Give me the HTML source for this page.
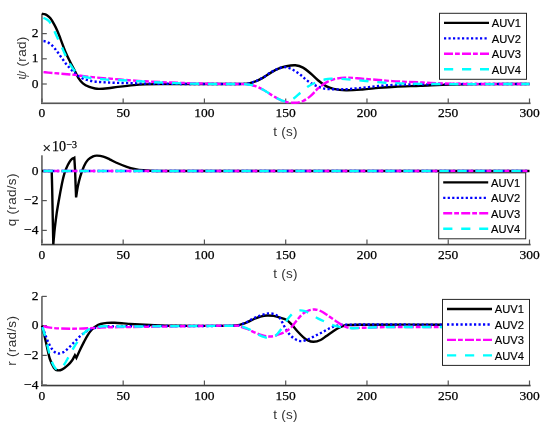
<!DOCTYPE html>
<html><head><meta charset="utf-8"><title>AUV psi q r</title>
<style>
html,body{margin:0;padding:0;background:#fff;}
svg{display:block;}
.tl{font-family:"Liberation Serif",serif;font-size:13.5px;fill:#000;stroke:#000;stroke-width:0.25px;}
.al{font-family:"Liberation Sans",sans-serif;font-size:13.5px;letter-spacing:0.3px;fill:#333;}
.lg{font-family:"Liberation Sans",sans-serif;font-size:11.2px;fill:#000;stroke:#000;stroke-width:0.15px;}
.ex{font-family:"Liberation Serif",serif;fill:#000;stroke:#000;stroke-width:0.25px;}
</style></head><body>
<svg width="550" height="431" viewBox="0 0 550 431">
<rect width="550" height="431" fill="#fff"/>
<rect x="41" y="13.5" width="1" height="90.5" fill="#747474"/>
<rect x="42" y="13.5" width="1" height="90.5" fill="#8a8a8a"/>
<rect x="41" y="102" width="489.6" height="1" fill="#a4a4a4"/>
<rect x="41" y="103" width="489.6" height="1" fill="#555555"/>
<rect x="41" y="104" width="489.6" height="1" fill="#ececec"/>
<line x1="41.90" y1="98.5" x2="41.90" y2="103.0" stroke="#555" stroke-width="1.2"/>
<text x="41.90" y="117.1" class="tl" text-anchor="middle">0</text>
<line x1="123.17" y1="98.5" x2="123.17" y2="103.0" stroke="#555" stroke-width="1.2"/>
<text x="123.17" y="117.1" class="tl" text-anchor="middle">50</text>
<line x1="204.43" y1="98.5" x2="204.43" y2="103.0" stroke="#555" stroke-width="1.2"/>
<text x="204.43" y="117.1" class="tl" text-anchor="middle">100</text>
<line x1="285.70" y1="98.5" x2="285.70" y2="103.0" stroke="#555" stroke-width="1.2"/>
<text x="285.70" y="117.1" class="tl" text-anchor="middle">150</text>
<line x1="366.97" y1="98.5" x2="366.97" y2="103.0" stroke="#555" stroke-width="1.2"/>
<text x="366.97" y="117.1" class="tl" text-anchor="middle">200</text>
<line x1="448.23" y1="98.5" x2="448.23" y2="103.0" stroke="#555" stroke-width="1.2"/>
<text x="448.23" y="117.1" class="tl" text-anchor="middle">250</text>
<line x1="529.50" y1="98.5" x2="529.50" y2="103.0" stroke="#555" stroke-width="1.2"/>
<text x="529.50" y="117.1" class="tl" text-anchor="middle">300</text>
<line x1="42" y1="84.00" x2="46.8" y2="84.00" stroke="#555" stroke-width="1.2"/>
<text x="38.4" y="87.60" class="tl" text-anchor="end">0</text>
<line x1="42" y1="58.80" x2="46.8" y2="58.80" stroke="#555" stroke-width="1.2"/>
<text x="38.4" y="62.40" class="tl" text-anchor="end">1</text>
<line x1="42" y1="33.60" x2="46.8" y2="33.60" stroke="#555" stroke-width="1.2"/>
<text x="38.4" y="37.20" class="tl" text-anchor="end">2</text>
<text x="285.5" y="136.4" class="al" text-anchor="middle">t (s)</text>
<text transform="translate(25.5 58.1) rotate(-90)" class="al" text-anchor="middle"><tspan font-family="Liberation Serif" font-style="italic" font-size="14.5">ψ</tspan> (rad)</text>
<path d="M42.00 13.80 C42.83 13.93 43.70 13.96 44.50 14.20 C45.36 14.46 46.25 14.79 47.00 15.30 C48.22 16.13 49.48 17.05 50.40 18.20 C51.78 19.92 52.82 21.95 53.90 23.90 C55.16 26.18 56.35 28.52 57.40 30.90 C58.51 33.42 59.41 36.03 60.40 38.60 C62.18 43.23 63.79 47.93 65.70 52.50 C67.05 55.73 68.65 58.86 70.20 62.00 C71.68 64.99 73.28 67.93 74.80 70.90 C75.98 73.19 76.90 75.65 78.30 77.80 C79.60 79.79 81.09 81.80 82.90 83.30 C84.76 84.83 87.07 85.94 89.30 86.90 C91.10 87.67 93.07 88.11 95.00 88.50 C96.37 88.78 97.80 88.93 99.20 88.90 C102.13 88.83 105.08 88.52 108.00 88.20 C111.24 87.85 114.46 87.29 117.70 86.90 C123.13 86.25 128.56 85.60 134.00 85.10 C137.66 84.77 141.33 84.54 145.00 84.40 C150.00 84.21 155.00 84.14 160.00 84.10 C170.00 84.01 180.00 84.01 190.00 84.00 C206.00 83.98 222.00 84.03 238.00 84.00 C240.00 84.00 242.01 84.03 244.00 83.90 C245.67 83.79 247.37 83.66 249.00 83.30 C251.20 82.82 253.41 82.24 255.50 81.40 C258.15 80.34 260.72 79.02 263.20 77.60 C265.85 76.08 268.26 74.15 270.90 72.60 C273.36 71.15 275.87 69.69 278.50 68.60 C281.03 67.55 283.71 66.73 286.40 66.20 C289.31 65.63 292.39 65.05 295.30 65.30 C297.92 65.52 300.67 66.36 303.00 67.60 C305.81 69.09 308.23 71.42 310.70 73.50 C313.33 75.72 315.65 78.31 318.30 80.50 C320.75 82.51 323.24 84.59 326.00 86.10 C328.34 87.39 330.98 88.36 333.60 88.90 C337.61 89.73 341.79 90.11 345.90 90.20 C351.36 90.31 356.84 89.88 362.30 89.50 C367.74 89.12 373.16 88.37 378.60 87.90 C384.06 87.43 389.53 86.98 395.00 86.70 C403.33 86.28 411.67 86.12 420.00 85.80 C430.00 85.42 440.00 84.88 450.00 84.60 C460.00 84.32 470.00 84.18 480.00 84.10 C496.50 83.98 513.00 84.03 529.50 84.00" fill="none" stroke="#000" stroke-width="2.4"/>
<path d="M42.00 40.80 C43.00 40.97 44.03 41.03 45.00 41.30 C46.16 41.63 47.37 41.98 48.40 42.60 C49.87 43.48 51.31 44.56 52.50 45.80 C54.41 47.79 56.02 50.10 57.70 52.30 C58.82 53.76 59.81 55.31 60.90 56.80 C62.81 59.41 64.64 62.10 66.70 64.60 C68.51 66.80 70.45 68.92 72.50 70.90 C74.32 72.65 76.23 74.36 78.30 75.80 C80.10 77.06 82.08 78.15 84.10 79.00 C85.98 79.79 88.01 80.24 90.00 80.70 C91.94 81.14 93.92 81.52 95.90 81.70 C101.35 82.19 106.83 82.47 112.30 82.70 C117.73 82.93 123.17 82.97 128.60 83.10 C134.07 83.23 139.53 83.42 145.00 83.50 C160.00 83.72 175.00 83.92 190.00 84.00 C206.00 84.09 222.00 84.03 238.00 84.00 C240.00 84.00 242.01 84.03 244.00 83.90 C245.67 83.79 247.37 83.67 249.00 83.30 C251.20 82.80 253.41 82.17 255.50 81.30 C258.15 80.20 260.72 78.85 263.20 77.40 C265.85 75.85 268.25 73.86 270.90 72.30 C273.35 70.86 275.85 69.37 278.50 68.40 C280.59 67.64 282.94 66.90 285.10 67.10 C287.71 67.34 290.40 68.49 292.80 69.70 C295.50 71.06 297.96 72.97 300.40 74.80 C303.06 76.80 305.39 79.28 308.10 81.20 C310.52 82.91 313.12 84.44 315.80 85.70 C318.22 86.84 320.80 87.80 323.40 88.40 C325.90 88.97 328.52 89.11 331.10 89.20 C336.02 89.38 340.98 89.42 345.90 89.20 C351.38 88.95 356.84 88.33 362.30 87.80 C367.74 87.27 373.16 86.48 378.60 86.00 C384.06 85.52 389.53 85.12 395.00 84.90 C403.33 84.56 411.67 84.41 420.00 84.30 C433.33 84.12 446.67 84.11 460.00 84.02" fill="none" stroke="#0000ff" stroke-width="2.4" stroke-dasharray="2.2 2.3" stroke-dashoffset="-1.5"/>
<path d="M460.00 84.02 L529.50 84.00" fill="none" stroke="#0000ff" stroke-width="2.4" stroke-dasharray="2.2 2.3" stroke-dashoffset="-1.5"/>
<path d="M42.00 72.00 C44.13 72.20 46.27 72.41 48.40 72.60 C52.27 72.94 56.13 73.26 60.00 73.60 C64.93 74.03 69.88 74.36 74.80 74.90 C79.88 75.46 84.92 76.34 90.00 76.90 C95.59 77.51 101.20 77.92 106.80 78.40 C114.06 79.02 121.33 79.65 128.60 80.20 C134.06 80.61 139.53 81.00 145.00 81.30 C153.33 81.76 161.66 82.17 170.00 82.50 C180.00 82.90 190.00 83.26 200.00 83.50 C210.00 83.74 220.00 83.82 230.00 83.95 C232.67 83.99 235.33 83.97 238.00 84.00 C240.00 84.02 242.01 83.97 244.00 84.10 C245.67 84.21 247.35 84.41 249.00 84.70 C251.18 85.08 253.43 85.36 255.50 86.10 C258.16 87.06 260.71 88.43 263.20 89.80 C265.84 91.26 268.31 93.04 270.90 94.60 C273.41 96.11 275.89 97.68 278.50 99.00 C280.56 100.05 282.66 101.19 284.90 101.70 C288.26 102.46 291.86 102.93 295.30 102.80 C297.90 102.70 300.63 102.06 303.00 101.00 C305.77 99.76 308.35 97.86 310.70 95.90 C313.45 93.60 315.59 90.56 318.30 88.20 C320.69 86.12 323.27 84.19 326.00 82.60 C328.37 81.22 330.95 80.00 333.60 79.30 C337.22 78.34 341.05 77.68 344.80 77.60 C350.61 77.48 356.47 78.29 362.30 78.70 C367.74 79.09 373.17 79.56 378.60 80.00 C383.13 80.36 387.66 80.84 392.20 81.10 C402.36 81.68 412.53 82.06 422.70 82.50 C431.80 82.89 440.90 83.36 450.00 83.60 C460.00 83.86 470.00 83.95 480.00 84.00 C496.50 84.08 513.00 84.00 529.50 84.00" fill="none" stroke="#ff00ff" stroke-width="2.4" stroke-dasharray="9 2 4.8 2.2" stroke-dashoffset="-1.5"/>
<path d="M42.00 17.30 C43.00 17.70 44.05 18.01 45.00 18.50 C46.18 19.11 47.46 19.69 48.40 20.60 C49.63 21.79 50.65 23.29 51.50 24.80 C52.72 26.96 53.57 29.33 54.60 31.60 C55.50 33.57 56.39 35.54 57.30 37.50 C58.86 40.87 60.44 44.23 62.00 47.60 C63.04 49.86 64.00 52.16 65.10 54.40 C66.74 57.73 68.27 61.14 70.20 64.30 C71.91 67.11 73.66 70.09 76.00 72.30 C77.89 74.09 80.46 75.32 82.90 76.30 C85.13 77.19 87.60 77.56 90.00 77.90 C94.84 78.59 99.72 79.05 104.60 79.40 C110.79 79.85 117.00 79.96 123.20 80.30 C128.64 80.60 134.07 80.98 139.50 81.30 C146.33 81.71 153.16 82.19 160.00 82.50 C170.00 82.96 180.00 83.36 190.00 83.60 C200.00 83.84 210.00 83.87 220.00 83.95 C226.00 84.00 232.00 83.96 238.00 84.00 C240.00 84.01 242.01 83.97 244.00 84.10 C245.67 84.21 247.35 84.41 249.00 84.70 C251.18 85.08 253.43 85.36 255.50 86.10 C258.16 87.06 260.71 88.43 263.20 89.80 C265.84 91.26 268.31 93.04 270.90 94.60 C273.41 96.11 275.89 97.69 278.50 99.00 C280.26 99.89 282.11 100.72 284.00 101.20 C285.28 101.52 286.76 101.76 288.00 101.40 C290.09 100.79 292.17 99.58 294.00 98.30 C296.30 96.68 298.23 94.52 300.40 92.70 C302.93 90.59 305.37 88.31 308.10 86.50 C310.50 84.91 313.14 83.62 315.80 82.50 C318.68 81.29 321.68 80.27 324.70 79.50 C326.78 78.97 328.95 78.64 331.10 78.60 C335.65 78.51 340.24 78.80 344.80 79.10 C351.01 79.50 357.20 80.13 363.40 80.70 C369.20 81.23 374.99 81.96 380.80 82.40 C386.76 82.86 392.73 83.25 398.70 83.40 C415.79 83.82 432.90 84.02 450.00 84.10 C476.50 84.22 503.00 84.03 529.50 84.00" fill="none" stroke="#00ffff" stroke-width="2.4" stroke-dasharray="9.2 8.8" stroke-dashoffset="-1.5"/>
<rect x="439.5" y="13.3" width="87" height="66" fill="#fff" stroke="#262626" stroke-width="1"/>
<path d="M444.0 22.90 H489.0" fill="none" stroke="#000" stroke-width="2.4"/>
<text x="491.8" y="27.20" class="lg">AUV1</text>
<path d="M444.0 38.35 H489.0" fill="none" stroke="#0000ff" stroke-width="2.4" stroke-dasharray="2.2 2.3"/>
<text x="491.8" y="42.65" class="lg">AUV2</text>
<path d="M444.0 53.80 H489.0" fill="none" stroke="#ff00ff" stroke-width="2.4" stroke-dasharray="9 2 4.8 2.2"/>
<text x="491.8" y="58.10" class="lg">AUV3</text>
<path d="M444.0 69.25 H489.0" fill="none" stroke="#00ffff" stroke-width="2.4" stroke-dasharray="9.2 8.8"/>
<text x="491.8" y="73.55" class="lg">AUV4</text>
<rect x="41" y="155.3" width="1" height="89.7" fill="#747474"/>
<rect x="42" y="155.3" width="1" height="89.7" fill="#8a8a8a"/>
<rect x="41" y="243" width="489.6" height="1" fill="#d5d5d5"/>
<rect x="41" y="244" width="489.6" height="1" fill="#474747"/>
<rect x="41" y="245" width="489.6" height="1" fill="#b8b8b8"/>
<line x1="41.90" y1="239.5" x2="41.90" y2="244.0" stroke="#555" stroke-width="1.2"/>
<text x="41.90" y="258.6" class="tl" text-anchor="middle">0</text>
<line x1="123.17" y1="239.5" x2="123.17" y2="244.0" stroke="#555" stroke-width="1.2"/>
<text x="123.17" y="258.6" class="tl" text-anchor="middle">50</text>
<line x1="204.43" y1="239.5" x2="204.43" y2="244.0" stroke="#555" stroke-width="1.2"/>
<text x="204.43" y="258.6" class="tl" text-anchor="middle">100</text>
<line x1="285.70" y1="239.5" x2="285.70" y2="244.0" stroke="#555" stroke-width="1.2"/>
<text x="285.70" y="258.6" class="tl" text-anchor="middle">150</text>
<line x1="366.97" y1="239.5" x2="366.97" y2="244.0" stroke="#555" stroke-width="1.2"/>
<text x="366.97" y="258.6" class="tl" text-anchor="middle">200</text>
<line x1="448.23" y1="239.5" x2="448.23" y2="244.0" stroke="#555" stroke-width="1.2"/>
<text x="448.23" y="258.6" class="tl" text-anchor="middle">250</text>
<line x1="529.50" y1="239.5" x2="529.50" y2="244.0" stroke="#555" stroke-width="1.2"/>
<text x="529.50" y="258.6" class="tl" text-anchor="middle">300</text>
<line x1="42" y1="171.00" x2="46.8" y2="171.00" stroke="#555" stroke-width="1.2"/>
<text x="38.4" y="174.60" class="tl" text-anchor="end">0</text>
<line x1="42" y1="200.60" x2="46.8" y2="200.60" stroke="#555" stroke-width="1.2"/>
<text x="38.4" y="204.20" class="tl" text-anchor="end">−2</text>
<line x1="42" y1="230.40" x2="46.8" y2="230.40" stroke="#555" stroke-width="1.2"/>
<text x="38.4" y="234.00" class="tl" text-anchor="end">−4</text>
<text x="285.5" y="277.9" class="al" text-anchor="middle">t (s)</text>
<text transform="translate(15.9 199.8) rotate(-90)" class="al" text-anchor="middle">q (rad/s)</text>
<path d="M42.00 171.00 L51.70 171.00 C51.87 177.33 52.06 183.67 52.20 190.00 C52.42 200.00 52.60 210.00 52.80 220.00 C52.96 228.10 53.13 236.20 53.30 244.30 C53.43 242.77 53.56 241.23 53.70 239.70 C54.06 235.87 54.37 232.03 54.80 228.20 C55.34 223.39 55.90 218.59 56.60 213.80 C57.27 209.19 58.10 204.59 58.90 200.00 C59.63 195.83 60.40 191.66 61.20 187.50 C61.70 184.93 62.21 182.35 62.80 179.80 C63.31 177.59 63.85 175.38 64.50 173.20 C64.95 171.68 65.45 170.15 66.10 168.70 C67.09 166.48 68.15 164.27 69.40 162.20 C70.12 161.01 70.99 159.83 72.00 158.90 C72.62 158.33 73.53 158.10 74.30 157.70 C74.53 161.37 74.83 165.03 75.00 168.70 C75.26 174.13 75.39 179.57 75.60 185.00 C75.76 189.13 75.93 193.27 76.10 197.40 C76.67 193.93 77.08 190.24 77.80 186.60 C78.48 183.14 79.27 179.67 80.30 176.30 C81.37 172.81 82.56 169.30 84.10 166.00 C85.13 163.80 86.37 161.55 88.00 159.80 C89.37 158.32 91.27 157.15 93.10 156.30 C94.27 155.75 95.70 155.56 97.00 155.60 C99.10 155.66 101.28 156.01 103.30 156.60 C105.48 157.24 107.53 158.33 109.60 159.30 C111.73 160.30 113.74 161.56 115.90 162.50 C119.48 164.06 123.10 165.56 126.80 166.80 C129.64 167.76 132.57 168.47 135.50 169.10 C138.04 169.64 140.62 170.00 143.20 170.30 C145.46 170.56 147.73 170.73 150.00 170.80 C155.00 170.96 160.00 171.00 165.00 171.00 C286.50 171.06 408.00 171.00 529.50 171.00" fill="none" stroke="#000" stroke-width="2.4"/>
<path d="M42.00 171.00 L529.50 171.00" fill="none" stroke="#0000ff" stroke-width="2.4" stroke-dasharray="2.2 2.3" stroke-dashoffset="-1.5"/>
<path d="M42.00 171.00 L529.50 171.00" fill="none" stroke="#ff00ff" stroke-width="2.4" stroke-dasharray="9 2 4.8 2.2" stroke-dashoffset="-1.5"/>
<path d="M42.00 171.00 L529.50 171.00" fill="none" stroke="#00ffff" stroke-width="2.4" stroke-dasharray="9.2 8.8" stroke-dashoffset="-1.5"/>
<text x="42.4" y="152.9" class="ex" font-size="15">×</text><text x="52.0" y="151.4" class="ex" font-size="14">10</text><text x="66.4" y="147.9" class="ex" font-size="10">−3</text>
<rect x="438.7" y="172.8" width="87" height="66" fill="#fff" stroke="#262626" stroke-width="1"/>
<path d="M443.2 182.40 H488.2" fill="none" stroke="#000" stroke-width="2.4"/>
<text x="491.0" y="186.70" class="lg">AUV1</text>
<path d="M443.2 197.85 H488.2" fill="none" stroke="#0000ff" stroke-width="2.4" stroke-dasharray="2.2 2.3"/>
<text x="491.0" y="202.15" class="lg">AUV2</text>
<path d="M443.2 213.30 H488.2" fill="none" stroke="#ff00ff" stroke-width="2.4" stroke-dasharray="9 2 4.8 2.2"/>
<text x="491.0" y="217.60" class="lg">AUV3</text>
<path d="M443.2 228.75 H488.2" fill="none" stroke="#00ffff" stroke-width="2.4" stroke-dasharray="9.2 8.8"/>
<text x="491.0" y="233.05" class="lg">AUV4</text>
<rect x="41" y="296.2" width="1" height="89.8" fill="#747474"/>
<rect x="42" y="296.2" width="1" height="89.8" fill="#8a8a8a"/>
<rect x="41" y="384" width="489.6" height="1" fill="#cacaca"/>
<rect x="41" y="385" width="489.6" height="1" fill="#3c3c3c"/>
<rect x="41" y="386" width="489.6" height="1" fill="#bababa"/>
<line x1="41.90" y1="380.5" x2="41.90" y2="385.0" stroke="#555" stroke-width="1.2"/>
<text x="41.90" y="399.6" class="tl" text-anchor="middle">0</text>
<line x1="123.17" y1="380.5" x2="123.17" y2="385.0" stroke="#555" stroke-width="1.2"/>
<text x="123.17" y="399.6" class="tl" text-anchor="middle">50</text>
<line x1="204.43" y1="380.5" x2="204.43" y2="385.0" stroke="#555" stroke-width="1.2"/>
<text x="204.43" y="399.6" class="tl" text-anchor="middle">100</text>
<line x1="285.70" y1="380.5" x2="285.70" y2="385.0" stroke="#555" stroke-width="1.2"/>
<text x="285.70" y="399.6" class="tl" text-anchor="middle">150</text>
<line x1="366.97" y1="380.5" x2="366.97" y2="385.0" stroke="#555" stroke-width="1.2"/>
<text x="366.97" y="399.6" class="tl" text-anchor="middle">200</text>
<line x1="448.23" y1="380.5" x2="448.23" y2="385.0" stroke="#555" stroke-width="1.2"/>
<text x="448.23" y="399.6" class="tl" text-anchor="middle">250</text>
<line x1="529.50" y1="380.5" x2="529.50" y2="385.0" stroke="#555" stroke-width="1.2"/>
<text x="529.50" y="399.6" class="tl" text-anchor="middle">300</text>
<line x1="42" y1="296.40" x2="46.8" y2="296.40" stroke="#555" stroke-width="1.2"/>
<text x="38.4" y="300.00" class="tl" text-anchor="end">2</text>
<line x1="42" y1="325.60" x2="46.8" y2="325.60" stroke="#555" stroke-width="1.2"/>
<text x="38.4" y="329.20" class="tl" text-anchor="end">0</text>
<line x1="42" y1="355.40" x2="46.8" y2="355.40" stroke="#555" stroke-width="1.2"/>
<text x="38.4" y="359.00" class="tl" text-anchor="end">−2</text>
<line x1="42" y1="385.00" x2="46.8" y2="385.00" stroke="#555" stroke-width="1.2"/>
<text x="38.4" y="388.60" class="tl" text-anchor="end">−4</text>
<text x="285.5" y="418.9" class="al" text-anchor="middle">t (s)</text>
<text transform="translate(15.9 340.8) rotate(-90)" class="al" text-anchor="middle">r (rad/s)</text>
<path d="M42.00 325.60 C42.73 328.57 43.50 331.52 44.20 334.50 C45.17 338.66 46.05 342.84 47.00 347.00 C47.88 350.84 48.47 354.78 49.70 358.50 C50.77 361.71 52.09 365.03 53.90 367.80 C54.66 368.97 56.11 370.07 57.40 370.30 C58.91 370.57 60.84 370.02 62.30 369.30 C64.34 368.29 66.19 366.67 67.90 365.10 C69.49 363.64 70.95 361.96 72.20 360.20 C73.29 358.66 74.00 356.87 74.90 355.20 L76.40 357.80 C77.67 355.07 78.90 352.32 80.20 349.60 C81.43 347.02 82.67 344.43 84.00 341.90 C85.24 339.53 86.47 337.15 87.90 334.90 C89.04 333.12 90.28 331.35 91.70 329.80 C92.81 328.59 94.12 327.49 95.50 326.60 C97.12 325.56 98.87 324.59 100.70 324.00 C102.71 323.35 104.88 323.08 107.00 322.90 C109.55 322.68 112.14 322.72 114.70 322.80 C117.67 322.89 120.64 323.17 123.60 323.40 C125.74 323.57 127.86 323.87 130.00 324.00 C136.66 324.40 143.33 324.73 150.00 325.00 C158.33 325.33 166.66 325.73 175.00 325.80 C194.00 325.96 213.00 325.85 232.00 325.70 C234.00 325.68 236.03 325.62 238.00 325.30 C239.53 325.05 241.02 324.50 242.50 324.00 C244.19 323.43 245.87 322.81 247.50 322.10 C249.70 321.14 251.79 319.93 254.00 319.00 C256.12 318.10 258.28 317.19 260.50 316.60 C262.65 316.03 264.89 315.62 267.10 315.50 C269.25 315.38 271.47 315.55 273.60 315.90 C275.77 316.25 277.88 316.98 280.00 317.60 C281.95 318.18 284.08 318.49 285.80 319.50 C287.94 320.76 289.83 322.60 291.60 324.40 C293.70 326.53 295.38 329.08 297.40 331.30 C299.24 333.32 301.15 335.31 303.20 337.10 C304.62 338.34 306.11 339.64 307.80 340.40 C309.58 341.20 311.67 341.86 313.60 341.80 C315.94 341.73 318.44 340.98 320.60 340.00 C322.71 339.05 324.47 337.34 326.40 336.00 C328.34 334.64 330.24 333.22 332.20 331.90 C334.10 330.62 336.00 329.30 338.00 328.20 C339.56 327.34 341.21 326.54 342.90 326.00 C344.54 325.48 346.28 325.13 348.00 325.00 C351.98 324.70 356.00 324.71 360.00 324.70 C387.33 324.61 414.67 324.70 442.00 324.70" fill="none" stroke="#000" stroke-width="2.4"/>
<path d="M42.00 325.60 C43.20 328.93 44.35 332.28 45.60 335.60 C46.49 337.95 47.33 340.33 48.40 342.60 C49.40 344.73 50.46 346.89 51.80 348.80 C52.76 350.16 53.95 351.49 55.30 352.40 C56.29 353.06 57.63 353.56 58.80 353.50 C60.43 353.42 62.28 352.89 63.70 352.00 C66.01 350.55 67.99 348.43 70.00 346.50 C72.23 344.36 74.20 341.97 76.40 339.80 C78.47 337.77 80.52 335.68 82.80 333.90 C84.79 332.35 86.93 330.87 89.20 329.80 C91.16 328.87 93.35 328.31 95.50 327.90 C98.89 327.25 102.35 326.80 105.80 326.60 C111.72 326.26 117.67 326.38 123.60 326.30 C132.40 326.18 141.20 326.05 150.00 326.00 C179.20 325.85 208.46 326.15 237.60 325.70 C238.76 325.68 239.83 325.03 240.90 324.60 C243.13 323.70 245.35 322.77 247.50 321.70 C249.72 320.60 251.77 319.16 254.00 318.10 C256.27 317.03 258.62 316.09 261.00 315.30 C263.35 314.52 265.77 313.60 268.20 313.40 C270.27 313.23 272.57 313.48 274.50 314.20 C276.34 314.88 278.23 316.10 279.50 317.60 C281.23 319.64 282.16 322.40 283.50 324.80 C284.66 326.87 285.65 329.06 287.00 331.00 C288.35 332.96 289.84 334.91 291.60 336.50 C293.31 338.05 295.32 339.48 297.40 340.40 C298.79 341.01 300.49 341.24 302.00 341.10 C303.96 340.91 305.93 340.14 307.80 339.40 C310.20 338.44 312.47 337.15 314.80 336.00 C317.14 334.85 319.49 333.71 321.80 332.50 C324.12 331.28 326.36 329.89 328.70 328.70 C330.10 327.99 331.53 327.35 333.00 326.80 C334.30 326.31 335.65 325.92 337.00 325.60 C338.31 325.29 339.66 325.05 341.00 324.90 C342.66 324.72 344.33 324.60 346.00 324.60 C378.00 324.50 410.00 324.60 442.00 324.60" fill="none" stroke="#0000ff" stroke-width="2.4" stroke-dasharray="2.2 2.3" stroke-dashoffset="-1.5"/>
<path d="M42.00 325.60 C44.13 326.20 46.22 327.07 48.40 327.40 C52.52 328.03 56.72 328.34 60.90 328.50 C66.92 328.74 72.97 328.70 79.00 328.60 C84.50 328.50 90.00 328.14 95.50 327.90 C99.77 327.71 104.03 327.40 108.30 327.30 C115.53 327.13 122.77 327.20 130.00 327.10 C153.33 326.77 176.67 326.30 200.00 326.00 C212.53 325.84 225.12 325.46 237.60 325.70 C238.75 325.72 239.81 326.42 240.90 326.80 C243.44 327.68 246.02 328.47 248.50 329.50 C250.75 330.44 252.85 331.76 255.10 332.70 C257.58 333.73 260.12 334.65 262.70 335.40 C264.49 335.92 266.35 336.38 268.20 336.50 C269.98 336.61 271.84 336.47 273.60 336.10 C275.84 335.63 278.04 334.81 280.20 334.00 C282.11 333.28 284.07 332.56 285.80 331.50 C287.87 330.23 289.90 328.73 291.60 327.00 C293.76 324.80 295.38 322.06 297.40 319.70 C299.24 317.56 301.02 315.25 303.20 313.50 C304.89 312.15 306.96 311.10 309.00 310.40 C310.82 309.77 312.89 309.40 314.80 309.50 C316.75 309.60 318.79 310.22 320.60 311.00 C322.65 311.88 324.51 313.26 326.40 314.50 C328.38 315.80 330.24 317.27 332.20 318.60 C334.64 320.27 337.12 321.89 339.60 323.50 C340.72 324.22 341.82 324.99 343.00 325.60 C344.29 326.26 345.61 326.93 347.00 327.30 C348.61 327.73 350.32 327.96 352.00 328.00 C356.32 328.10 360.67 327.82 365.00 327.70 C370.00 327.56 375.00 327.25 380.00 327.20 C400.66 327.01 421.33 327.07 442.00 327.00" fill="none" stroke="#ff00ff" stroke-width="2.4" stroke-dasharray="9 2 4.8 2.2" stroke-dashoffset="-1.5"/>
<path d="M42.00 325.60 C42.73 328.10 43.51 330.59 44.20 333.10 C45.41 337.55 46.55 342.03 47.70 346.50 C48.85 350.99 49.58 355.65 51.10 360.00 C52.11 362.88 53.49 365.90 55.30 368.20 C56.06 369.16 57.77 370.15 58.80 369.80 C60.57 369.19 62.39 367.06 63.70 365.30 C65.86 362.39 67.39 358.98 69.20 355.80 C71.09 352.48 72.79 349.04 74.80 345.80 C76.45 343.14 78.31 340.60 80.20 338.10 C81.81 335.97 83.36 333.70 85.30 331.90 C86.76 330.54 88.58 329.42 90.40 328.60 C91.98 327.89 93.78 327.61 95.50 327.30 C98.04 326.84 100.62 326.41 103.20 326.30 C107.02 326.14 110.87 326.49 114.70 326.50 C126.47 326.53 138.23 326.47 150.00 326.40 C166.67 326.30 183.33 326.13 200.00 326.00 C212.53 325.90 225.08 325.61 237.60 325.70 C238.72 325.71 239.83 325.98 240.90 326.30 C243.47 327.08 246.07 327.87 248.50 329.00 C251.54 330.41 254.34 332.32 257.30 333.90 C259.07 334.85 260.81 335.96 262.70 336.60 C264.88 337.33 267.29 338.19 269.50 338.00 C271.66 337.82 274.06 336.83 275.80 335.50 C277.99 333.83 279.61 331.27 281.30 329.00 C282.88 326.87 284.12 324.50 285.60 322.30 C286.85 320.44 288.04 318.49 289.50 316.80 C291.00 315.06 292.60 313.20 294.50 312.00 C296.00 311.06 297.94 310.53 299.70 310.40 C301.44 310.27 303.33 310.64 305.00 311.20 C307.19 311.94 309.26 313.16 311.30 314.30 C313.69 315.63 315.87 317.34 318.30 318.60 C321.67 320.34 325.22 321.77 328.70 323.30 C330.52 324.10 332.31 325.00 334.20 325.60 C336.08 326.20 338.06 326.50 340.00 326.90 C341.66 327.24 343.32 327.63 345.00 327.80 C347.55 328.06 350.13 328.20 352.70 328.20 C356.80 328.20 360.90 327.95 365.00 327.80 C370.00 327.62 375.00 327.25 380.00 327.20 C400.66 326.99 421.33 327.07 442.00 327.00" fill="none" stroke="#00ffff" stroke-width="2.4" stroke-dasharray="9.2 8.8" stroke-dashoffset="-1.5"/>
<rect x="442.5" y="299.4" width="87" height="66" fill="#fff" stroke="#262626" stroke-width="1"/>
<path d="M447.0 309.00 H492.0" fill="none" stroke="#000" stroke-width="2.4"/>
<text x="494.8" y="313.30" class="lg">AUV1</text>
<path d="M447.0 324.45 H492.0" fill="none" stroke="#0000ff" stroke-width="2.4" stroke-dasharray="2.2 2.3"/>
<text x="494.8" y="328.75" class="lg">AUV2</text>
<path d="M447.0 339.90 H492.0" fill="none" stroke="#ff00ff" stroke-width="2.4" stroke-dasharray="9 2 4.8 2.2"/>
<text x="494.8" y="344.20" class="lg">AUV3</text>
<path d="M447.0 355.35 H492.0" fill="none" stroke="#00ffff" stroke-width="2.4" stroke-dasharray="9.2 8.8"/>
<text x="494.8" y="359.65" class="lg">AUV4</text>
</svg></body></html>
